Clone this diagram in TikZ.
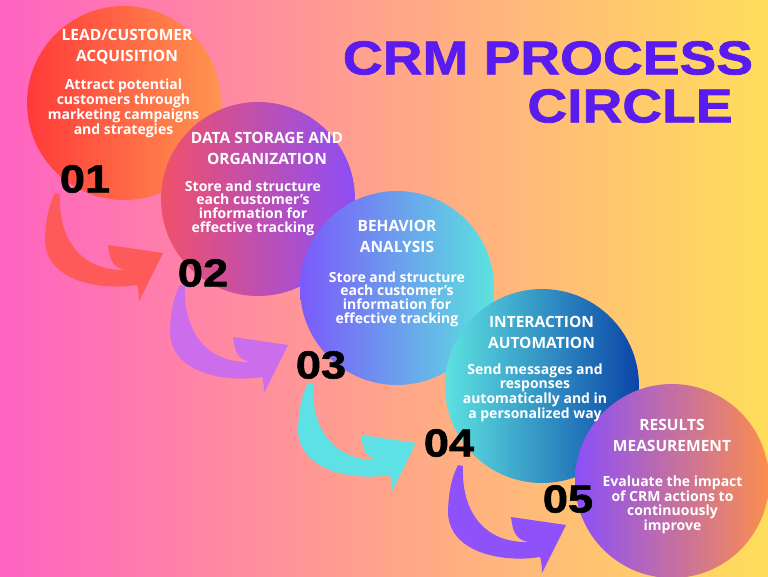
\documentclass[tikz,border=0pt]{standalone}
\usepackage{fontspec}
\setmainfont{Open Sans}
\newfontfamily\heavyfont[FakeStretch=1.16,FakeBold=1.5]{Liberation Sans Bold}
\usetikzlibrary{positioning}
\definecolor{bgL}{HTML}{FF63C2}
\definecolor{bgM}{HTML}{FFA48B}
\definecolor{bgR}{HTML}{FFDE5B}
\definecolor{oneL}{HTML}{FF3A3A}
\definecolor{oneR}{HTML}{FF9550}
\definecolor{twoL}{HTML}{F0506A}
\definecolor{twoR}{HTML}{8D4EF6}
\definecolor{threeL}{HTML}{7B5AFB}
\definecolor{threeR}{HTML}{5BE3DF}
\definecolor{fourL}{HTML}{5DE2E1}
\definecolor{fourR}{HTML}{0A45A8}
\definecolor{fiveL}{HTML}{8B4FF9}
\definecolor{fiveR}{HTML}{FB8E4E}
\definecolor{titlecol}{HTML}{5A1BEF}
\definecolor{arrA}{HTML}{FF5A5A}
\definecolor{arrB}{HTML}{CC6DEB}
\definecolor{arrC}{HTML}{5DE1E4}
\definecolor{arrD}{HTML}{8F52FA}
\tikzset{
  stepcircle/.style={circle,minimum size=194pt,inner sep=0pt},
  headtext/.style={text=white,align=center,inner sep=0pt,font=\fontsize{15.5}{21}\selectfont\bfseries},
  bodytext/.style={text=white,align=center,inner sep=0pt,font=\fontsize{14}{13.7}\selectfont\bfseries},
  numtext/.style={inner sep=0pt,text=black,font=\heavyfont\fontsize{39}{39}\selectfont},
  titletext/.style={inner sep=0pt,text=titlecol,font=\heavyfont\fontsize{47.5}{47.5}\selectfont},
  bendarrow/.pic={
    \fill[pic actions] (0,0) -- (5,1)
      .. controls (3,45) and (25,78) .. (70,77)
      .. controls (58,74) and (55,68) .. (53,52)
      -- (108,60) -- (84,108)
      .. controls (84,100) and (83,95) .. (82,92)
      .. controls (45,98) and (-11,88) .. (-10,45)
      .. controls (-9,20) and (-4,8) .. (0,0) -- cycle;
  }
}

\begin{document}
\begin{tikzpicture}[x=1pt,y=-1pt]
\useasboundingbox (0,0) rectangle (768,576);
\shade[left color=bgL,right color=bgR,middle color=bgM] (0,0) rectangle (768,576);

% the five steps
\node[stepcircle,left color=oneL,right color=oneR] (c1) at (124,103) {};
\node[stepcircle,left color=twoL,right color=twoR] (c2) at (258,199) {};
\node[stepcircle,left color=threeL,right color=threeR] (c3) at (397,288) {};
\node[stepcircle,left color=fourL,right color=fourR] (c4) at (542,386) {};
\node[stepcircle,left color=fiveL,right color=fiveR] (c5) at (672,481) {};

\node[headtext] (h1) at (127,47) {LEAD/CUSTOMER\\ACQUISITION};
\node[bodytext] (b1) at (123.5,108) {Attract potential\\customers through\\marketing campaigns\\and strategies};

\node[headtext] (h2) at (267,148) {DATA STORAGE AND\\ORGANIZATION};
\node[bodytext] (b2) at (253,208) {Store and structure\\each customer’s\\information for\\effective tracking};

\node[headtext] (h3) at (397,236) {BEHAVIOR\\ANALYSIS};
\node[bodytext] (b3) at (397,299) {Store and structure\\each customer’s\\information for\\effective tracking};

\node[headtext] (h4) at (541.5,332) {INTERACTION\\AUTOMATION};
\node[bodytext] (b4) at (535,393) {Send messages and\\responses\\automatically and in\\a personalized way};

\node[headtext] (h5) at (672,435) {RESULTS\\MEASUREMENT};
\node[bodytext] (b5) at (672.5,505) {Evaluate the impact\\of CRM actions to\\continuously\\improve};

% step numbers
\node[numtext] (n1) at (85,179) {01};
\node[numtext] (n2) at (203,273) {02};
\node[numtext] (n3) at (321,365) {03};
\node[numtext] (n4) at (449,443) {04};
\node[numtext] (n5) at (568,499) {05};

% curved arrows between the numbers
\coordinate (t1) at (55,193);
\coordinate (t2) at (180,285);
\coordinate (t3) at (308,383);
\coordinate (t4) at (458,465);
\pic[fill=arrA] at (t1) {bendarrow};
\pic[fill=arrB] at (t2) {bendarrow};
\pic[fill=arrC] at (t3) {bendarrow};
\pic[fill=arrD] at (t4) {bendarrow};

\node[titletext] (title1) at (548,58) {CRM PROCESS};
\node[titletext] (title2) at (630,106) {CIRCLE};
\end{tikzpicture}
\end{document}
